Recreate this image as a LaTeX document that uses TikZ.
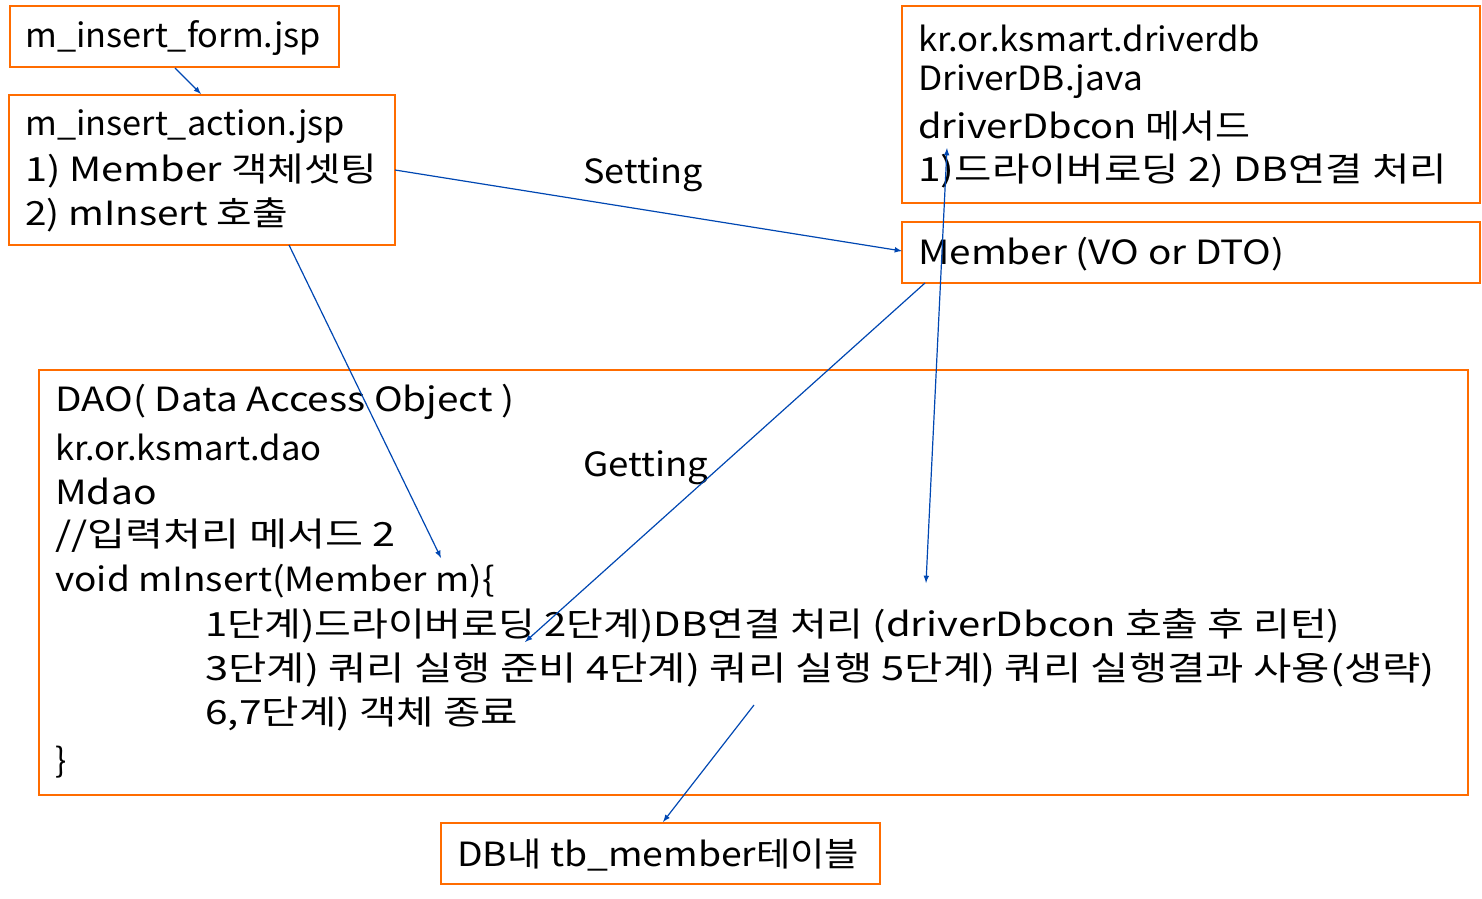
\documentclass[tikz,border=0pt]{standalone}
\usepackage{fontspec}
\usepackage{graphicx}
\setmainfont{Noto Sans CJK KR}
\newcommand{\sx}[2]{\scalebox{#1}[1]{#2}}
\begin{document}
\begin{tikzpicture}[x=0.75pt,y=-0.75pt,
  box/.style={draw=orange!85!red, line width=1.2pt},
  t/.style={anchor=west,inner sep=0pt,font=\fontsize{25}{30}\selectfont},
  ar/.style={draw=blue!60!cyan!70!black,line width=0.9pt,-latex}]
\useasboundingbox (0,0) rectangle (1482,899);
\draw[box] (10,6) rectangle (339,67);
\draw[box] (9,95) rectangle (395,245);
\draw[box] (902,6) rectangle (1480,203);
\draw[box] (902,222) rectangle (1480,283);
\draw[box] (39,370) rectangle (1468,795);
\draw[box] (441,823) rectangle (880,884);
\node[t] (a1) at (25,38) {\sx{1.03}{m\_insert\_form.jsp}};
\node[t] (b1) at (25,127) {\sx{1.03}{m\_insert\_action.jsp}};
\node[t] (b2) at (25,171) {\sx{1.19}{1) Member 객체셋팅}};
\node[t] (b3) at (25,215) {\sx{1.16}{2) mInsert 호출}};
\node[t] (c1) at (918,38) {\sx{1.04}{kr.or.ksmart.driverdb}};
\node[t] (c2) at (918,82) {\sx{1.06}{DriverDB.java}};
\node[t] (c3) at (918,126) {\sx{1.14}{driverDbcon 메서드}};
\node[t] (c4) at (918,171) {\sx{1.22}{1)드라이버로딩 2) DB연결 처리}};
\node[t] (m1) at (918,254) {\sx{1.16}{Member (VO or DTO)}};
\node[t] (d1) at (55,402) {\sx{1.16}{DAO( Data Access Object )}};
\node[t] (d2) at (55,447) {\sx{1.04}{kr.or.ksmart.dao}};
\node[t] (d3) at (55,491) {\sx{1.17}{Mdao}};
\node[t] (d4) at (55,536) {\sx{1.24}{//입력처리 메서드 2}};
\node[t] (d5) at (55,581) {\sx{1.11}{void mInsert(Member m)\{}};
\node[t] (d6) at (205,626) {\sx{1.20}{1단계)드라이버로딩 2단계)DB연결 처리 (driverDbcon 호출 후 리턴)}};
\node[t] (d7) at (205,670) {\sx{1.25}{3단계) 쿼리 실행 준비 4단계) 쿼리 실행 5단계) 쿼리 실행결과 사용(생략)}};
\node[t] (d8) at (205,714) {\sx{1.22}{6,7단계) 객체 종료}};
\node[t] (d9) at (55,762) {\}};
\node[t] (e1) at (457,855) {\sx{1.12}{DB내 tb\_member테이블}};
\node[t] (s) at (583,175) {\sx{1.08}{Setting}};
\node[t] (g) at (583,468) {\sx{1.10}{Getting}};
\coordinate (p1) at (175,68); \coordinate (q1) at (201,94);
\coordinate (p2) at (395,170); \coordinate (q2) at (902,251);
\coordinate (p3) at (289,245); \coordinate (q3) at (441,558);
\coordinate (p4) at (925,283); \coordinate (q4) at (525,642);
\coordinate (p5) at (947,148); \coordinate (q5) at (926,583);
\coordinate (p6) at (754,705); \coordinate (q6) at (663,822);
\draw[ar] (p1) -- (q1);
\draw[ar] (p2) -- (q2);
\draw[ar] (p3) -- (q3);
\draw[ar] (p4) -- (q4);
\draw[ar,latex-latex] (p5) -- (q5);
\draw[ar] (p6) -- (q6);
\end{tikzpicture}
\end{document}
